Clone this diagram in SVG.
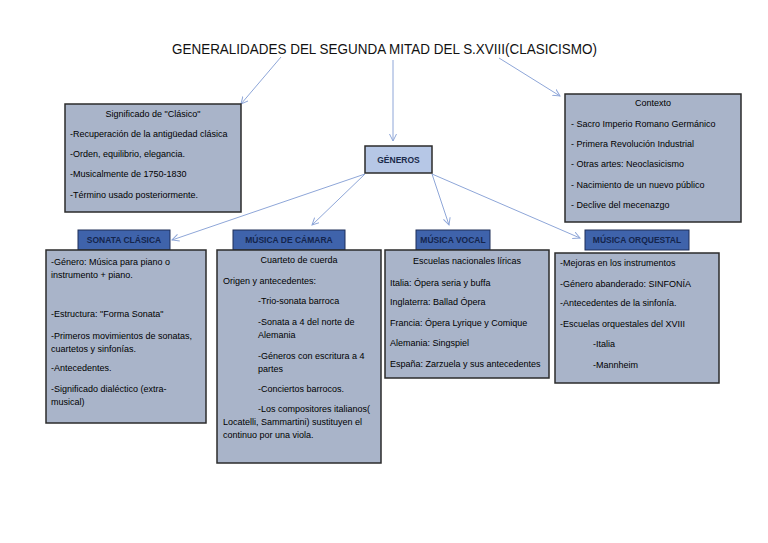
<svg xmlns="http://www.w3.org/2000/svg" width="768" height="543" viewBox="0 0 768 543">
<style>
.box{fill:#a9b4c9;stroke:#2b2b2b;stroke-width:1.5}
.gen{fill:#b6c7e6;stroke:#2b2b2b;stroke-width:1.5}
.hdr{fill:#3f63ab;stroke:#1e2f58;stroke-width:1}
.t{font-family:"Liberation Sans",Arial,sans-serif;font-size:9px;fill:#000}
.c{text-anchor:middle}
.h{font-family:"Liberation Sans",Arial,sans-serif;font-size:8.5px;fill:#14254d;font-weight:bold;text-anchor:middle}
.title{font-family:"Liberation Sans",Arial,sans-serif;font-size:15px;fill:#111}
.conn{stroke:#8ea6d8;stroke-width:1;fill:none}
</style>
<defs>
<marker id="arr" markerWidth="8" markerHeight="8" refX="7" refY="4" orient="auto" markerUnits="userSpaceOnUse">
<path d="M0,0.5 L7,4 L0,7.5" fill="none" stroke="#8ea6d8" stroke-width="1"/>
</marker>
</defs>
<rect width="768" height="543" fill="#ffffff"/>

<g id="title">
<text class="title" x="172" y="54" textLength="425" lengthAdjust="spacingAndGlyphs">GENERALIDADES DEL SEGUNDA MITAD DEL S.XVIII(CLASICISMO)</text>
</g>

<g id="connectors">
<line class="conn" x1="281" y1="57" x2="241" y2="104" marker-end="url(#arr)"/>
<line class="conn" x1="393" y1="60" x2="393" y2="141" marker-end="url(#arr)"/>
<line class="conn" x1="499" y1="58" x2="560" y2="96" marker-end="url(#arr)"/>
<line class="conn" x1="365" y1="174" x2="172" y2="240" marker-end="url(#arr)"/>
<line class="conn" x1="365" y1="174" x2="312" y2="225" marker-end="url(#arr)"/>
<line class="conn" x1="432" y1="174" x2="449" y2="225" marker-end="url(#arr)"/>
<line class="conn" x1="432" y1="174" x2="580" y2="238" marker-end="url(#arr)"/>
</g>

<g id="significado">
<rect class="box" x="65" y="104" width="176" height="108"/>
<text class="t c" x="153" y="117">Significado de "Clásico"</text>
<text class="t" x="70" y="137">-Recuperación de la antigüedad clásica</text>
<text class="t" x="70" y="157">-Orden, equilibrio, elegancia.</text>
<text class="t" x="70" y="177">-Musicalmente de 1750-1830</text>
<text class="t" x="70" y="198">-Término usado posteriormente.</text>
</g>

<g id="contexto">
<rect class="box" x="565" y="94" width="176" height="128"/>
<text class="t c" x="653" y="106">Contexto</text>
<text class="t" x="571" y="127">- Sacro Imperio Romano Germánico</text>
<text class="t" x="571" y="147">- Primera Revolución Industrial</text>
<text class="t" x="571" y="167">- Otras artes: Neoclasicismo</text>
<text class="t" x="571" y="188">- Nacimiento de un nuevo público</text>
<text class="t" x="571" y="208">- Declive del mecenazgo</text>
</g>

<g id="generos">
<rect class="gen" x="365" y="146" width="67" height="27"/>
<text class="h" x="398.5" y="163" style="fill:#1a2a4a">GÉNEROS</text>
</g>

<g id="sonata">
<rect class="hdr" x="78" y="230" width="92" height="20"/>
<text class="h" x="124" y="243">SONATA CLÁSICA</text>
<rect class="box" x="46" y="250" width="160" height="173"/>
<text class="t" x="51" y="265">-Género: Música para piano o</text>
<text class="t" x="51" y="278">instrumento + piano.</text>
<text class="t" x="51" y="317">-Estructura: "Forma Sonata"</text>
<text class="t" x="51" y="339">-Primeros movimientos de sonatas,</text>
<text class="t" x="51" y="352">cuartetos y sinfonías.</text>
<text class="t" x="51" y="371">-Antecedentes.</text>
<text class="t" x="51" y="392">-Significado dialéctico (extra-</text>
<text class="t" x="51" y="405">musical)</text>
</g>

<g id="camara">
<rect class="hdr" x="233" y="230" width="112" height="20"/>
<text class="h" x="289" y="243">MÚSICA DE CÁMARA</text>
<rect class="box" x="217" y="250" width="164" height="213"/>
<text class="t c" x="299" y="263">Cuarteto de cuerda</text>
<text class="t" x="223" y="284">Origen y antecedentes:</text>
<text class="t" x="258" y="304">-Trio-sonata barroca</text>
<text class="t" x="258" y="325">-Sonata a 4 del norte de</text>
<text class="t" x="258" y="338">Alemania</text>
<text class="t" x="258" y="359">-Géneros con escritura a 4</text>
<text class="t" x="258" y="372">partes</text>
<text class="t" x="258" y="392">-Conciertos barrocos.</text>
<text class="t" x="258" y="412">-Los compositores italianos(</text>
<text class="t" x="223" y="425">Locatelli, Sammartini) sustituyen el</text>
<text class="t" x="223" y="438">continuo por una viola.</text>
</g>

<g id="vocal">
<rect class="hdr" x="416" y="230" width="74" height="20"/>
<text class="h" x="453" y="243">MÚSICA VOCAL</text>
<rect class="box" x="385" y="250" width="164" height="128"/>
<text class="t c" x="467" y="264">Escuelas nacionales líricas</text>
<text class="t" x="390" y="286">Italia: Ópera seria y buffa</text>
<text class="t" x="390" y="305">Inglaterra: Ballad Ópera</text>
<text class="t" x="390" y="326">Francia: Ópera Lyrique y Comique</text>
<text class="t" x="390" y="346">Alemania: Singspiel</text>
<text class="t" x="390" y="367">España: Zarzuela y sus antecedentes</text>
</g>

<g id="orquestal">
<rect class="hdr" x="585" y="230" width="104" height="20"/>
<text class="h" x="637" y="243">MÚSICA ORQUESTAL</text>
<rect class="box" x="555" y="253" width="164" height="130"/>
<text class="t" x="560" y="266">-Mejoras en los instrumentos</text>
<text class="t" x="560" y="287">-Género abanderado: SINFONÍA</text>
<text class="t" x="560" y="306">-Antecedentes de la sinfonía.</text>
<text class="t" x="560" y="327">-Escuelas orquestales del XVIII</text>
<text class="t" x="593" y="347">-Italia</text>
<text class="t" x="593" y="368">-Mannheim</text>
</g>
</svg>
